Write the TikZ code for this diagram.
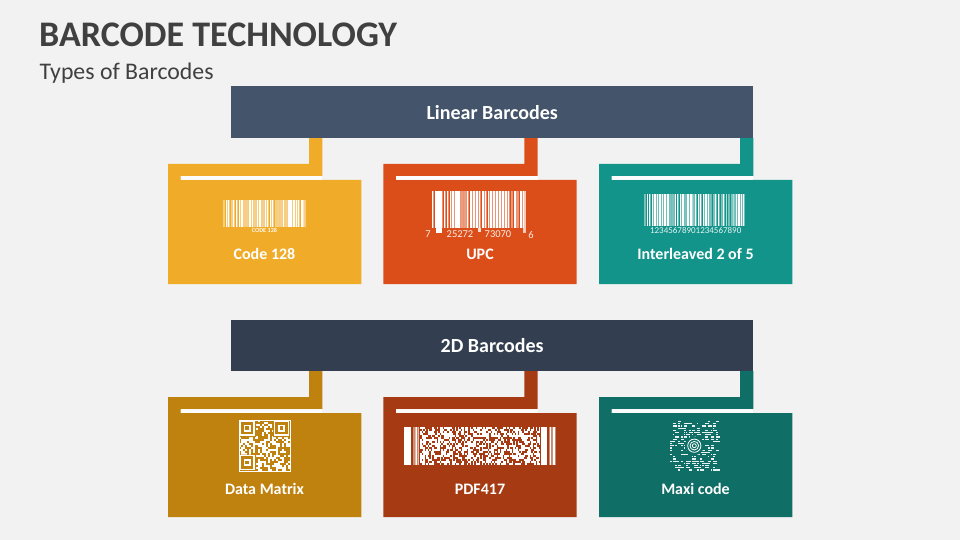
\documentclass[tikz,border=0pt]{standalone}
\usepackage{fontspec}
\setmainfont{Carlito}
\usepackage{tikz}
\usetikzlibrary{calc}
\usetikzlibrary{positioning}

\definecolor{pagegray}{HTML}{F2F2F2}
\definecolor{linearbar}{HTML}{44546A}
\definecolor{twodbar}{HTML}{333F50}
\definecolor{yellowcard}{HTML}{F0AB28}
\definecolor{orangecard}{HTML}{DC4E19}
\definecolor{tealcard}{HTML}{12948A}
\definecolor{yellowdark}{HTML}{C0820E}
\definecolor{orangedark}{HTML}{A63A12}
\definecolor{tealdark}{HTML}{0F6E66}

\tikzset{
    headbar/.style={minimum width=522pt, minimum height=52pt, inner sep=0pt, text=white, font=\fontsize{20}{24}\selectfont\bfseries},
    cardlabel/.style={text=white, inner sep=0pt, font=\fontsize{16}{18}\selectfont\bfseries},
    digits/.style={text=white, inner sep=0pt, opacity=0.9, font=\fontsize{#1}{#1}\selectfont},
}

% card with tab: #1 colour, #2 left edge, #3 top of the bar above
\newcommand{\card}[3]{
    \fill[#1] (#2,#3+26) -- ++(141,0) -- ++(0,-26) -- ++(13.3,0) -- ++(0,38)
        -- ++(-141.6,0) -- ++(0,4) -- ++(180.6,0) -- ++(0,104) -- ++(-193.3,0) -- cycle;
    \fill[white, opacity=0.8] (#2+12.7,#3+38) rectangle ++(141.6,4);
}
% bars of random width: #1 seed, #2 x0, #3 x1, #4 y0, #5 y1, #6 pitch
\newcommand{\stripes}[6]{
    \pgfmathsetseed{#1}
    \pgfmathsetmacro{\nbars}{int((#3-#2)/#6)}
    \foreach \n in {0,...,\nbars} {
        \pgfmathsetmacro{\xb}{#2+\n*(#3-#2)/(\nbars+1)}
        \pgfmathsetmacro{\wb}{(0.3+0.45*rnd)*#6}
        \pgfmathsetmacro{\ob}{rnd<0.7 ? 1 : 0.45}
        \fill[white, opacity=\ob] (\xb,#4) rectangle (\xb+\wb,#5);
        \fill[white, opacity=0.4] (\xb+\wb,#4) rectangle (\xb+\wb+0.15*#6,#5);
    }
}

\begin{document}
\begin{tikzpicture}[x=1pt, y=-1pt]
    \useasboundingbox (0,0) rectangle (960,540);
    \fill[pagegray] (0,0) rectangle (960,540);

    \node[anchor=west, inner sep=0pt, text=black!75, font=\fontsize{36}{40}\selectfont\bfseries] (title) at (39,34.5) {BARCODE TECHNOLOGY};
    \node[anchor=west, inner sep=0pt, text=black!75, font=\fontsize{23.8}{28}\selectfont] (subtitle) at (39.5,73.5) {Types of Barcodes};

    % cards first, the bars lie on the stems
    \card{yellowcard}{168}{138}
    \card{orangecard}{383.3}{138}
    \card{tealcard}{599}{138}
    \card{yellowdark}{168}{371}
    \card{orangedark}{383.3}{371}
    \card{tealdark}{599}{371}

    \node[headbar, fill=linearbar, anchor=north west] (linear) at (231,86) {Linear Barcodes};
    \node[headbar, fill=twodbar, anchor=north west, minimum height=51pt] (twod) at (231,320) {2D Barcodes};

    % code 128
    \stripes{128}{223}{306}{200}{226.7}{2.6}
    \node[digits=6.2, font=\bfseries] (codetext) at (264.5,230) {\fontsize{6.2}{7}\selectfont CODE 128};
    \node[cardlabel] (code) at (264.5,254) {Code 128};

    % upc
    \stripes{72}{432}{525.5}{191}{228}{3}
    \fill[white] (436,191) rectangle (442,233);
    \fill[white, opacity=0.8] (478,228) rectangle (481,232);
    \fill[white, opacity=0.7] (523,191) rectangle (525.5,233);
    \node[digits=10.5] (upca) at (428,234.5) {7};
    \node[digits=10.5] (upcb) at (460,234.5) {25272};
    \node[digits=10.5] (upcc) at (498,234.5) {73070};
    \node[digits=10.5] (upcd) at (531,234.5) {6};
    \node[cardlabel] (upc) at (480,254) {UPC};

    % interleaved
    \stripes{25}{644}{746}{194}{225.7}{2.6}
    \node[digits=9] (itftext) at (695.7,230.5) {12345678901234567890};
    \node[cardlabel] (itf) at (695.5,254) {Interleaved 2 of 5};

    % data matrix
    \pgfmathsetseed{11}
    \foreach \i in {0,...,24} {
        \foreach \j in {0,...,24} {
            \pgfmathparse{rnd<0.44 ? 1 : 0}
            \ifnum\pgfmathresult=1
                \fill[white] (239+\i*2.06,420+\j*2.06) rectangle ++(2.06,2.06);
            \fi
        }
    }
    \fill[yellowdark] (239,420) rectangle ++(17,17) (273,420) rectangle ++(17,17) (239,454.5) rectangle ++(17,17);
    \foreach \px/\py in {239/420, 273.5/420, 239/454.5} {
        \draw[white, line width=1.4pt] (\px+1,\py+1) rectangle ++(14,14);
        \fill[white] (\px+4.5,\py+4.5) rectangle ++(7,7);
        \fill[yellowdark] (\px+6.3,\py+6.3) rectangle ++(3.4,3.4);
    }
    \draw[white, line width=1pt] (239.5,420.5) rectangle (290,471.5);
    \node[cardlabel] (matrix) at (264.5,489) {Data Matrix};

    % pdf417
    \fill[white] (404,427.3) rectangle (411,464.7);
    \stripes{9}{413}{419}{427.3}{464.7}{1.6}
    \pgfmathsetseed{417}
    \foreach \i in {0,...,79} {
        \foreach \j in {0,...,18} {
            \pgfmathparse{rnd<0.6 ? 1 : 0}
            \ifnum\pgfmathresult=1
                \fill[white] (420+\i*1.5,427.3+\j*1.97) rectangle ++(1.5,1.97);
            \fi
        }
    }
    \fill[white] (541,427.3) rectangle (547,464.7);
    \stripes{5}{549}{555.7}{427.3}{464.7}{1.6}
    \node[cardlabel] (pdf) at (480,489) {PDF417};

    % maxi code
    \pgfmathsetseed{33}
    \foreach \j in {0,...,22} {
        \foreach \i in {0,...,17} {
            \pgfmathparse{rnd<0.4 ? 1 : 0}
            \ifnum\pgfmathresult=1
                \pgfmathsetmacro{\wm}{1+3.2*rnd}
                \fill[white, opacity=0.9] (670+\i*2.7,421+\j*2.2) rectangle ++(\wm,1.2);
            \fi
        }
    }
    \fill[tealdark] (694.3,445.7) circle (9.5);
    \foreach \r in {2,4.3,6.6} {
        \draw[white, line width=0.8pt] (694.3,445.7) circle (\r);
    }
    \node[cardlabel] (maxi) at (695.5,489) {Maxi code};
\end{tikzpicture}
\end{document}
